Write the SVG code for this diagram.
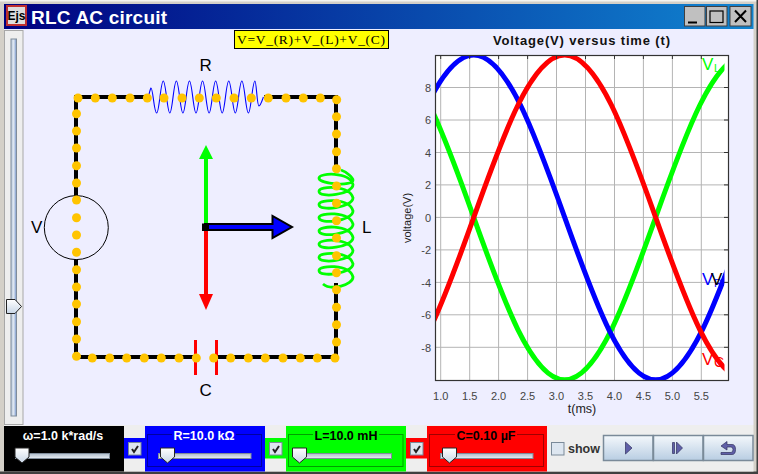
<svg xmlns="http://www.w3.org/2000/svg" xmlns:xlink="http://www.w3.org/1999/xlink" width="758" height="474" viewBox="0 0 758 474">
<style>
text{font-family:"Liberation Sans",Arial,sans-serif}
.wire{fill:none;stroke:#000;stroke-width:4}
.d{fill:#ffc400}
.lab{font-size:17px;fill:#000}
.tick{font-size:11px;fill:#444}
.tx{text-anchor:middle}
.ty{text-anchor:end}
.grid{stroke:#b4b4b4;stroke-width:1;fill:none}
.ctl{font-size:12.5px;font-weight:bold;text-anchor:middle}
.trk{fill:url(#trk);stroke:#7f8c9a;stroke-width:1}
.inner{fill:none;stroke-width:1}
.btn{fill:url(#btn);stroke:#7a8a99;stroke-width:1.5}
.ico{fill:#5f5fa8;stroke:#30305f;stroke-width:.7}
.wb{fill:#c0c0c0;stroke:#404040;stroke-width:1}
</style>
<defs>
<linearGradient id="tb" x1="0" x2="1" y1="0" y2="0"><stop offset="0" stop-color="#000080"/><stop offset="1" stop-color="#1084d0"/></linearGradient>
<linearGradient id="btn" x1="0" x2="0" y1="0" y2="1"><stop offset="0" stop-color="#f4f8fc"/><stop offset="1" stop-color="#b8cde2"/></linearGradient>
<linearGradient id="trk" x1="0" x2="0" y1="0" y2="1"><stop offset="0" stop-color="#aebccb"/><stop offset="1" stop-color="#e8eef4"/></linearGradient>
<linearGradient id="vt" x1="0" x2="1" y1="0" y2="0"><stop offset="0" stop-color="#b8c8dc"/><stop offset=".5" stop-color="#e0e8f2"/><stop offset="1" stop-color="#6f90c8"/></linearGradient>
<linearGradient id="th" x1="0" x2="0" y1="0" y2="1"><stop offset="0" stop-color="#fff"/><stop offset="1" stop-color="#c8d6e6"/></linearGradient>
<path id="thumb" d="M0,0H14V9L7,15L0,9Z" fill="url(#th)" stroke="#222" stroke-width="1"/>
<g id="chk"><rect width="12.5" height="12.5" fill="#dde6f0" stroke="#7a8a99" stroke-width="1"/><path d="M3.5,6.5L5.5,9.5L9.5,3.5" fill="none" stroke="#222" stroke-width="2"/></g>
<path id="sine" d="M-363.8,0c29.66,-83.2 58.03,-162.4 90.95,-162.4c32.92,0 61.29,79.2 90.95,162.4c29.66,83.2 58.03,162.4 90.95,162.4c32.92,0 61.29,-79.2 90.95,-162.4c29.66,-83.2 58.03,-162.4 90.95,-162.4c32.92,0 61.29,79.2 90.95,162.4c29.66,83.2 58.03,162.4 90.95,162.4c32.92,0 61.29,-79.2 90.95,-162.4c29.66,-83.2 58.03,-162.4 90.95,-162.4c32.92,0 61.29,79.2 90.95,162.4c29.66,83.2 58.03,162.4 90.95,162.4c32.92,0 61.29,-79.2 90.95,-162.4" fill="none" stroke-width="5"/>
<clipPath id="pc"><rect x="435.5" y="55.5" width="289" height="325"/></clipPath>
</defs>

<rect width="758" height="474" fill="#d4d0c8"/>
<rect x="0" y="0" width="758" height="1.5" fill="#f4f4f0"/>
<rect x="756.5" y="0" width="1.5" height="474" fill="#404040"/>
<rect x="0" y="471.5" width="758" height="2.5" fill="#404040"/>

<g id="titlebar">
<rect x="4" y="4" width="749.5" height="25" fill="url(#tb)"/>
<rect x="6" y="5" width="21" height="21" fill="#c03030"/>
<rect x="8" y="7" width="17" height="17" fill="#ddd"/>
<text x="16.5" y="20" font-size="12" font-weight="bold" text-anchor="middle" fill="#000">Ejs</text>
<text x="31" y="24" font-size="19" font-weight="bold" fill="#fff" textLength="136">RLC AC circuit</text>
<rect class="wb" x="684.5" y="6.5" width="20.5" height="19.5"/>
<rect x="688" y="21.5" width="9" height="2" fill="#000"/>
<rect class="wb" x="706.5" y="6.5" width="20.5" height="19.5"/>
<rect x="710" y="11" width="13" height="11.5" fill="none" stroke="#000" stroke-width="1.2"/>
<rect class="wb" x="730" y="6.5" width="21" height="19.5"/>
<path d="M735,10.5L746,22M746,10.5L735,22" stroke="#000" stroke-width="2" fill="none"/>
</g>

<rect x="4" y="29" width="749.5" height="396" fill="#eeeeff"/>

<g id="freq-slider">
<rect x="4.5" y="30.5" width="18.5" height="394" fill="#eeeeee" stroke="#a8a8a8"/>
<rect x="11" y="39" width="5.5" height="377" fill="url(#vt)" stroke="#7f8c9a"/>
<path d="M6.5,299.5H15L21.5,306.5L15,313.5H6.5Z" fill="url(#th)" stroke="#222"/>
</g>

<g id="connectors">
<path class="wire" d="M150,97H76V196M76,259V357H196M216,357H336V283M336,170V97H264"/>
</g>

<g id="node-V">
<circle cx="76.3" cy="227.6" r="32" fill="#eeeeff" stroke="#000" stroke-width="1"/>
<text class="lab" x="31" y="233">V</text>
</g>
<g id="node-R">
<path d="M148,98c1,-3 2,-9 3,-10c2,0 3,25 5.7,25c2.5,0 4,-32 6.55,-32c2.55,0 4.05,32 6.55,32c2.5,0 4,-32 6.55,-32c2.55,0 4.05,32 6.55,32c2.5,0 4,-32 6.55,-32c2.55,0 4.05,32 6.55,32c2.5,0 4,-32 6.55,-32c2.55,0 4.05,32 6.55,32c2.5,0 4,-32 6.55,-32c2.55,0 4.05,32 6.55,32c2.5,0 4,-32 6.55,-32c2.55,0 4.05,32 6.55,32c2.5,0 4,-32 6.55,-32c2.55,0 4.05,32 6.55,32c2.5,0 4,-32 6.55,-32c1.5,0 2,25 4,25c1.5,0 3,-5 4.5,-9" fill="none" stroke="#0000ff" stroke-width="1.1"/>
<text class="lab" x="199.5" y="70.5">R</text>
</g>
<g id="node-L">
<path d="M341,170c6,2 12,8 12,10c0,7 -34,4 -34,-2c0,-5 30,-7 34,6.6c0,10 -34,14 -34,6.6c0,-5 30,-7 34,6.6c0,10 -34,14 -34,6.6c0,-5 30,-7 34,6.6c0,10 -34,14 -34,6.6c0,-5 30,-7 34,6.6c0,10 -34,14 -34,6.6c0,-5 30,-7 34,6.6c0,10 -34,14 -34,6.6c0,-5 30,-7 34,6.6c0,10 -34,14 -34,6.6c0,-5 30,-7 34,6.6c0,10 -34,14 -34,6.6c0,-5 30,-7 34,6.6c0,8 -22,14 -30,7" fill="none" stroke="#00ff00" stroke-width="2.8"/>
<text class="lab" x="362" y="233">L</text>
</g>
<g id="node-C">
<path d="M195.5,340V375M216.5,340V375" stroke="#ff0000" stroke-width="3" fill="none"/>
<text class="lab" x="199.5" y="396">C</text>
</g>

<g id="charges" class="d">
<circle cx="78" cy="98" r="4.5"/><circle cx="95.3" cy="98" r="4.5"/><circle cx="112.3" cy="98" r="4.5"/><circle cx="130" cy="98" r="4.5"/><circle cx="147.3" cy="98" r="4.5"/><circle cx="164" cy="98" r="4.5"/><circle cx="182" cy="98" r="4.5"/><circle cx="199.3" cy="98" r="4.5"/><circle cx="216.3" cy="98" r="4.5"/><circle cx="234" cy="98" r="4.5"/><circle cx="251.3" cy="98" r="4.5"/><circle cx="268.3" cy="98" r="4.5"/><circle cx="286" cy="98" r="4.5"/><circle cx="303.3" cy="98" r="4.5"/><circle cx="320.3" cy="98" r="4.5"/><circle cx="336.7" cy="99.7" r="4.5"/>
<circle cx="76.5" cy="113.7" r="4.5"/><circle cx="76.5" cy="131" r="4.5"/><circle cx="76.5" cy="148" r="4.5"/><circle cx="76.5" cy="165.7" r="4.5"/><circle cx="76.5" cy="183" r="4.5"/><circle cx="76.5" cy="200" r="4.5"/><circle cx="76.5" cy="217.7" r="4.5"/><circle cx="76.5" cy="235" r="4.5"/><circle cx="76.5" cy="252.3" r="4.5"/><circle cx="76.5" cy="269.7" r="4.5"/><circle cx="76.5" cy="287" r="4.5"/><circle cx="76.5" cy="304" r="4.5"/><circle cx="76.5" cy="321.7" r="4.5"/><circle cx="76.5" cy="339" r="4.5"/><circle cx="76.5" cy="356.3" r="4.5"/>
<circle cx="336.5" cy="116.7" r="4.5"/><circle cx="336.5" cy="134" r="4.5"/><circle cx="336.5" cy="151.7" r="4.5"/><circle cx="336.5" cy="168.7" r="4.5"/><circle cx="336.5" cy="186" r="4.5"/><circle cx="336.5" cy="203.3" r="4.5"/><circle cx="336.5" cy="220.7" r="4.5"/><circle cx="336.5" cy="238" r="4.5"/><circle cx="336.5" cy="255.7" r="4.5"/><circle cx="336.5" cy="272.7" r="4.5"/><circle cx="336.5" cy="289.7" r="4.5"/><circle cx="336.5" cy="307.3" r="4.5"/><circle cx="336.5" cy="324.7" r="4.5"/><circle cx="336.5" cy="342" r="4.5"/><circle cx="335" cy="358" r="4.5"/>
<circle cx="92.3" cy="358" r="4.5"/><circle cx="109.7" cy="358" r="4.5"/><circle cx="126.7" cy="358" r="4.5"/><circle cx="144.3" cy="358" r="4.5"/><circle cx="161.3" cy="358" r="4.5"/><circle cx="179" cy="358" r="4.5"/><circle cx="196.3" cy="358" r="4.5"/><circle cx="213.7" cy="358" r="4.5"/><circle cx="230.7" cy="358" r="4.5"/><circle cx="248.3" cy="358" r="4.5"/><circle cx="265.3" cy="358" r="4.5"/><circle cx="283" cy="358" r="4.5"/><circle cx="300.3" cy="358" r="4.5"/><circle cx="317.3" cy="358" r="4.5"/>
</g>

<g id="phasors">
<path d="M204,230H208V294H213L206,310L199,294H204Z" fill="#ff0000"/>
<path d="M204,227H208V159H213L206,145L199,159H204Z" fill="#00ff00"/>
<path d="M205,224H272.5V216L292,227L272.5,238V230H205Z" fill="#0000ff" stroke="#000" stroke-width="2"/>
<rect x="202" y="223.5" width="7" height="7.5" fill="#000"/>
</g>

<g id="equation">
<rect x="234.5" y="30.5" width="154" height="18" fill="#ffff00" stroke="#000" stroke-width="1"/>
<text x="237" y="44" font-size="13.5" textLength="148" fill="#000" style="font-family:'Liberation Serif',serif">V=V_(R)+V_(L)+V_(C)</text>
</g>

<g id="plot">
<text x="493" y="44.5" font-size="13" font-weight="bold" fill="#111" textLength="177">Voltage(V) versus time (t)</text>
<rect x="435.5" y="55.5" width="293" height="325" fill="#fff"/>
<path class="grid" d="M440.7,55V380M469.7,55V380M498.6,55V380M527.6,55V380M556.5,55V380M585.5,55V380M614.5,55V380M643.4,55V380M672.4,55V380M701.3,55V380M435,87.5H728M435,120H728M435,152.5H728M435,184.9H728M435,217.4H728M435,249.9H728M435,282.4H728M435,314.8H728M435,347.3H728"/>
<g clip-path="url(#pc)">
<use xlink:href="#sine" href="#sine" transform="translate(291.85,217.4)" stroke="#00ff00"/>
<use xlink:href="#sine" href="#sine" transform="translate(382.8,217.4)" stroke="#0000ff"/>
<use xlink:href="#sine" href="#sine" transform="translate(473.75,217.4)" stroke="#ff0000"/>
</g>
<rect x="435.5" y="55.5" width="293" height="325" fill="none" stroke="#333" stroke-width="1.2"/>
<path d="M724,87.5h4M724,120h4M724,152.5h4M724,184.9h4M724,217.4h4M724,249.9h4M724,282.4h4M724,314.8h4M724,347.3h4M440.7,55v4M469.7,55v4M498.6,55v4M527.6,55v4M556.5,55v4M585.5,55v4M614.5,55v4M643.4,55v4M672.4,55v4M701.3,55v4" stroke="#333" stroke-width="1" fill="none"/>
<g class="tick ty">
<text x="431" y="92">8</text><text x="431" y="124">6</text><text x="431" y="157">4</text><text x="431" y="189">2</text><text x="431" y="222">0</text><text x="431" y="254">-2</text><text x="431" y="287">-4</text><text x="431" y="319">-6</text><text x="431" y="352">-8</text>
</g>
<g class="tick tx">
<text x="440.7" y="400">1.0</text><text x="469.7" y="400">1.5</text><text x="498.6" y="400">2.0</text><text x="527.6" y="400">2.5</text><text x="556.5" y="400">3.0</text><text x="585.5" y="400">3.5</text><text x="614.5" y="400">4.0</text><text x="643.4" y="400">4.5</text><text x="672.4" y="400">5.0</text><text x="701.3" y="400">5.5</text>
</g>
<text x="582" y="413" font-size="12.5" text-anchor="middle" fill="#222">t(ms)</text>
<text transform="translate(411,218) rotate(-90)" font-size="11" text-anchor="middle" fill="#222">voltage(V)</text>
<text x="702" y="70" font-size="17" fill="#00ff00">V</text><text x="714" y="72" font-size="11" fill="#00ff00">L</text>
<text x="702" y="285" font-size="17" fill="#0000ff">V</text><text x="714" y="287" font-size="11" fill="#0000ff">R</text>
<text x="711" y="285" font-size="17" fill="#000">V</text>
<text x="702" y="365" font-size="17" fill="#ff0000">V</text><text x="714" y="367" font-size="14" fill="#ff0000">C</text>
</g>

<rect x="4" y="425" width="749.5" height="46.5" fill="#eeeeee"/>
<g id="ctl-omega">
<rect x="4" y="426" width="120" height="45.5" fill="#000"/>
<text class="ctl" x="63" y="440" fill="#fff">ω=1.0 k*rad/s</text>
<rect class="trk" x="15.5" y="453.5" width="94" height="5"/>
<use href="#thumb" xlink:href="#thumb" x="15" y="448"/>
</g>
<g id="ctl-R">
<rect x="124" y="438" width="21" height="20.5" fill="#0000ff"/>
<use href="#chk" xlink:href="#chk" x="128.5" y="442.5"/>
<rect x="145" y="426" width="120" height="45.5" fill="#0000ff"/>
<rect class="inner" x="147.5" y="434.5" width="114" height="32" stroke="#0000a0"/>
<rect x="172" y="430" width="64" height="10" fill="#0000ff"/>
<text class="ctl" x="204" y="440" fill="#fff">R=10.0 kΩ</text>
<rect class="trk" x="158.5" y="453.5" width="92.5" height="5"/>
<use href="#thumb" xlink:href="#thumb" x="160.5" y="448"/>
</g>
<g id="ctl-L">
<rect x="265" y="438" width="21" height="20.5" fill="#00ff00"/>
<use href="#chk" xlink:href="#chk" x="269.5" y="442.5"/>
<rect x="286" y="426" width="120" height="45.5" fill="#00ff00"/>
<rect class="inner" x="288.5" y="434.5" width="114.5" height="32" stroke="#00a000"/>
<rect x="313" y="430" width="66" height="10" fill="#00ff00"/>
<text class="ctl" x="346" y="440" fill="#000">L=10.0 mH</text>
<rect class="trk" x="299" y="453.5" width="92.5" height="5"/>
<use href="#thumb" xlink:href="#thumb" x="292.5" y="448"/>
</g>
<g id="ctl-C">
<rect x="406" y="438" width="21" height="20.5" fill="#ff0000"/>
<use href="#chk" xlink:href="#chk" x="410.5" y="442.5"/>
<rect x="427" y="426" width="120" height="45.5" fill="#ff0000"/>
<rect class="inner" x="429.5" y="434.5" width="114" height="32" stroke="#a00000"/>
<rect x="455" y="430" width="62" height="10" fill="#ff0000"/>
<text class="ctl" x="486" y="440" fill="#000">C=0.10 µF</text>
<rect class="trk" x="440.5" y="453.5" width="92.5" height="5"/>
<use href="#thumb" xlink:href="#thumb" x="442.5" y="448"/>
</g>
<g id="ctl-show">
<rect x="551.5" y="442.5" width="12.5" height="12.5" fill="#dde6f0" stroke="#7a8a99"/>
<text x="568" y="453" font-size="12.5" font-weight="bold" fill="#333">show</text>
</g>
<g id="ctl-buttons">
<rect class="btn" x="603.5" y="435.5" width="49.5" height="25"/>
<rect class="btn" x="653.5" y="435.5" width="49.5" height="25"/>
<rect class="btn" x="703.5" y="435.5" width="49.5" height="25"/>
<path class="ico" d="M625.5,442L632,448L625.5,454Z"/>
<path class="ico" d="M672.5,442.5H674.5V453.5H672.5ZM676.5,442L682.5,448L676.5,454Z"/>
<path class="ico" d="M721,446L727,441.5V444.5H732Q735.5,444.5 735.5,449.5Q735.5,454.5 732,454.5H721V452.5H731Q733,452.5 733,449.5Q733,447 731,447H727V450Z"/>
</g>
</svg>
